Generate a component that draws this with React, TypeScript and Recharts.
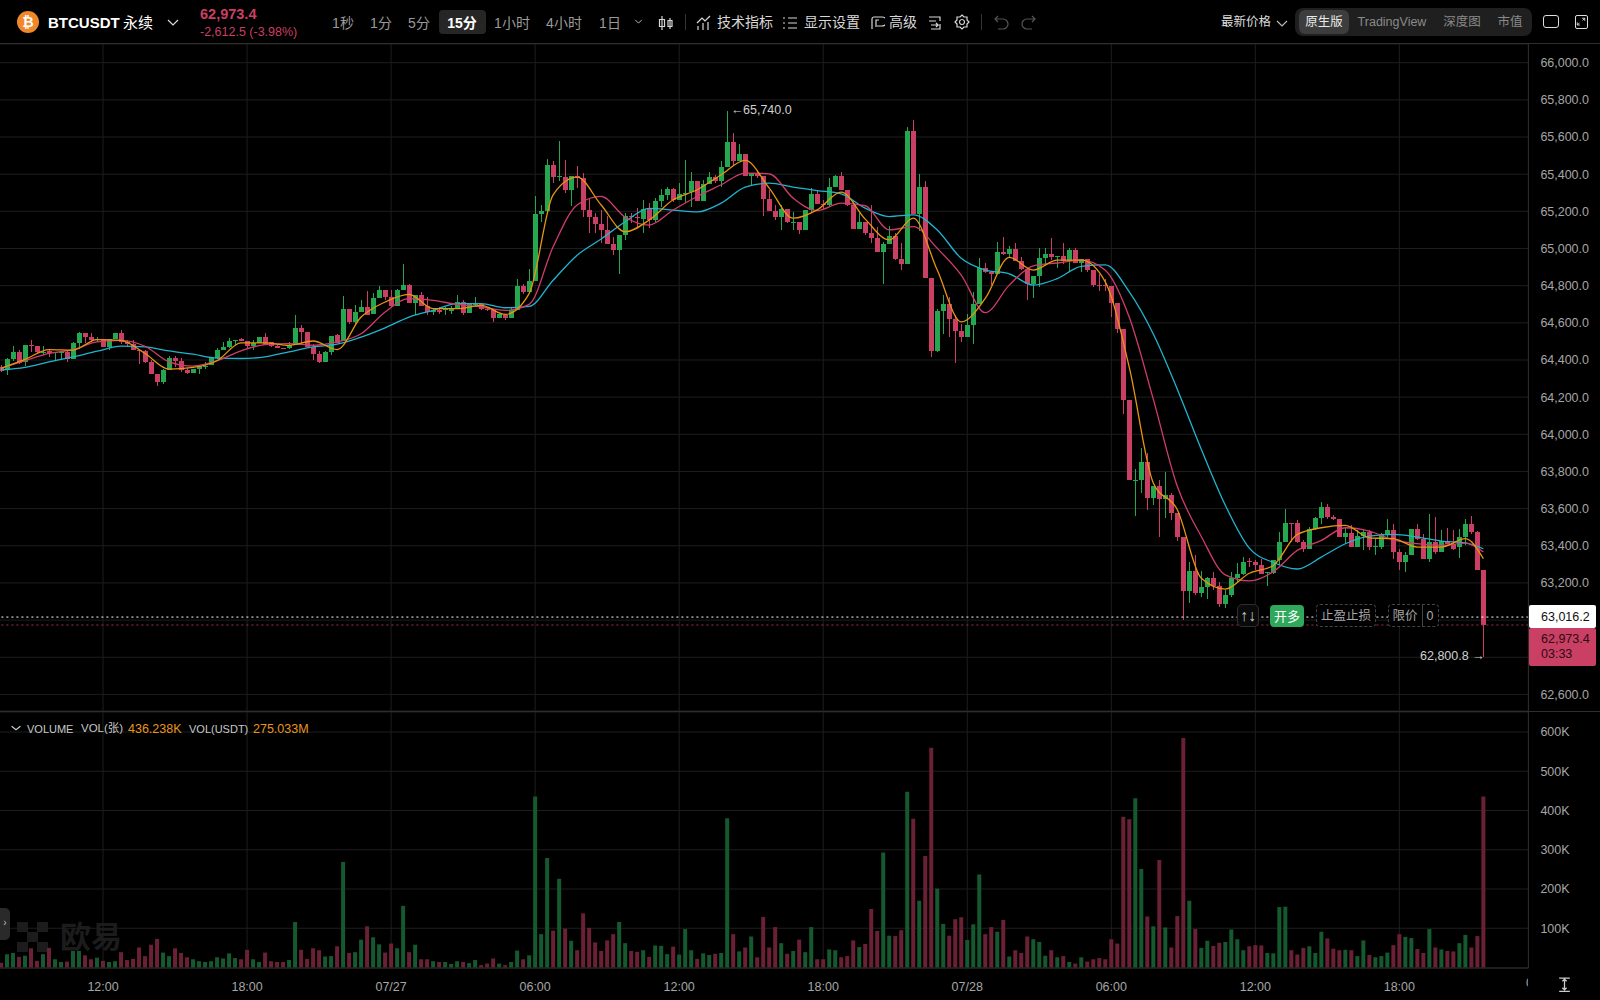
import React from 'react';
import { ComposedChart, Bar, Line, Cell, XAxis, YAxis, CartesianGrid, ReferenceLine } from 'recharts';

const opens = [
  64360,64346,64405,64442,64390,64481,64474,64444,64447,64442,
  64442,64442,64405,64490,64543,64522,64508,64515,64470,64513,
  64543,64497,64485,64453,64447,64389,64324,64282,64346,64412,
  64397,64346,64332,64351,64365,64371,64412,64453,64469,64502,
  64511,64501,64476,64492,64522,64497,64474,64463,64463,64479,
  64570,64549,64469,64433,64389,64442,64533,64500,64672,64602,
  64656,64683,64645,64732,64775,64737,64690,64775,64802,64706,
  64748,64690,64656,64670,64670,64661,64678,64710,64652,64699,
  64699,64672,64667,64624,64642,64624,64667,64797,64764,64824,
  65186,65202,65451,65386,65386,65316,65391,65380,65207,65170,
  65132,65099,65024,64991,65070,65175,65171,65159,65213,65153,
  65256,65289,65321,65262,65294,65302,65365,65257,65348,65386,
  65365,65440,65575,65473,65510,65392,65408,65392,65267,65203,
  65170,65213,65143,65143,65100,65208,65294,65237,65235,65330,
  65392,65316,65235,65105,65143,65084,65057,64981,65024,65068,
  64943,64916,65635,65186,65332,64841,64447,64663,64700,64619,
  64555,64522,64587,64700,64895,64873,64862,64981,64970,64997,
  64933,64889,64808,64852,64948,64969,64955,64958,64931,64991,
  64921,64942,64883,64802,64802,64796,64704,64569,64185,63753,
  63753,63850,63656,63720,63650,63672,63575,63445,63158,63266,
  63147,63180,63229,63185,63088,63137,63229,63250,63320,63310,
  63299,63256,63256,63321,63418,63521,63521,63418,63385,63488,
  63548,63607,63553,63542,63445,63467,63396,63450,63472,63396,
  63396,63461,63483,63364,63315,63353,63488,63434,63331,63418,
  63364,63423,63407,63396,63445,63515,63472,63272,
];

const closes = [
  64342,64405,64442,64385,64479,64478,64442,64445,64438,64444,
  64444,64405,64490,64543,64522,64506,64515,64470,64515,64543,
  64497,64486,64453,64451,64389,64324,64282,64346,64412,64396,
  64346,64332,64351,64365,64367,64412,64453,64469,64501,64510,
  64502,64474,64492,64522,64479,64476,64465,64460,64479,64570,
  64549,64469,64433,64389,64442,64531,64494,64672,64602,64656,
  64683,64643,64732,64775,64737,64688,64775,64802,64706,64748,
  64690,64656,64667,64656,64672,64678,64710,64652,64699,64701,
  64672,64667,64624,64645,64624,64667,64797,64764,64824,65186,
  65202,65451,65386,65388,65316,65391,65380,65207,65170,65132,
  65099,65022,64991,65070,65175,65171,65168,65213,65153,65256,
  65289,65321,65261,65293,65298,65365,65257,65348,65386,65365,
  65440,65575,65473,65510,65392,65408,65392,65267,65203,65170,
  65213,65143,65145,65100,65208,65294,65240,65233,65330,65392,
  65316,65235,65105,65143,65084,65057,64981,65024,65068,64943,
  64916,65635,65186,65332,64841,64447,64663,64700,64619,64555,
  64522,64587,64700,64895,64873,64862,64981,64970,64997,64933,
  64889,64808,64852,64949,64969,64953,64958,64931,64991,64921,
  64942,64883,64802,64800,64800,64704,64569,64185,63753,63755,
  63850,63656,63720,63650,63672,63575,63445,63158,63266,63147,
  63180,63229,63185,63088,63137,63229,63250,63315,63313,63299,
  63250,63258,63321,63418,63521,63519,63418,63385,63488,63548,
  63607,63553,63542,63445,63467,63396,63450,63472,63396,63398,
  63461,63483,63364,63315,63353,63488,63434,63331,63418,63364,
  63423,63407,63385,63445,63515,63472,63272,62973.4,
];

const highs = [
  64372,64408,64474,64453,64479,64510,64474,64474,64461,64444,
  64444,64453,64497,64549,64543,64543,64524,64515,64515,64543,
  64563,64506,64506,64453,64453,64399,64324,64349,64424,64424,
  64408,64355,64351,64365,64388,64417,64467,64497,64520,64510,
  64517,64501,64510,64522,64543,64497,64479,64465,64497,64640,
  64586,64549,64488,64447,64447,64531,64542,64743,64672,64694,
  64721,64770,64761,64797,64775,64775,64784,64919,64811,64748,
  64766,64739,64676,64685,64685,64688,64748,64721,64706,64739,
  64703,64685,64676,64645,64649,64685,64838,64811,64888,65283,
  65235,65483,65469,65580,65478,65391,65445,65409,65270,65189,
  65207,65175,65063,65070,65189,65189,65216,65261,65243,65270,
  65321,65330,65325,65352,65478,65411,65365,65370,65411,65397,
  65473,65740,65624,65564,65510,65408,65424,65392,65316,65235,
  65235,65213,65199,65143,65208,65325,65316,65262,65379,65397,
  65413,65316,65253,65190,65143,65233,65118,65037,65122,65082,
  65028,65654,65689,65402,65365,64841,64677,64749,64740,64641,
  64596,64650,64767,64947,64920,64875,65035,65064,65014,65028,
  64956,64889,64852,65001,65000,65054,64958,65027,65000,65000,
  64946,64946,64886,64865,64838,64796,64704,64569,64185,63812,
  63928,63901,63720,63756,63796,63684,63575,63445,63310,63351,
  63266,63234,63261,63207,63162,63261,63306,63337,63333,63324,
  63330,63258,63324,63474,63600,63521,63537,63429,63501,63555,
  63634,63627,63564,63542,63495,63510,63483,63483,63483,63438,
  63468,63546,63519,63384,63366,63492,63519,63465,63569,63555,
  63483,63497,63483,63492,63546,63558,63477,63272,
];

const lows = [
  64337,64321,64394,64378,64367,64442,64435,64426,64417,64394,
  64399,64390,64405,64461,64494,64497,64497,64470,64453,64513,
  64488,64470,64453,64380,64385,64324,64260,64271,64346,64360,
  64337,64324,64332,64324,64353,64371,64406,64453,64467,64479,
  64501,64467,64456,64492,64479,64470,64465,64458,64461,64479,
  64488,64469,64399,64385,64389,64426,64494,64500,64595,64595,
  64656,64643,64645,64732,64721,64685,64690,64775,64706,64640,
  64690,64640,64642,64649,64642,64649,64678,64642,64652,64692,
  64667,64663,64602,64624,64616,64624,64667,64753,64764,64824,
  65144,65184,65352,65361,65298,65229,65325,65168,65081,65081,
  65027,65022,64964,64865,65045,65135,65117,65081,65108,65144,
  65225,65261,65252,65262,65244,65221,65257,65257,65348,65352,
  65330,65440,65451,65473,65392,65343,65379,65176,65203,65154,
  65100,65136,65100,65078,65100,65199,65240,65208,65230,65330,
  65316,65230,65105,65105,65073,65028,64981,64808,65024,64938,
  64884,64916,65186,65096,64841,64414,64443,64542,64524,64382,
  64497,64522,64484,64700,64866,64803,64862,64965,64956,64933,
  64884,64722,64731,64794,64910,64937,64897,64919,64874,64921,
  64874,64874,64793,64769,64769,64630,64544,64108,63753,63558,
  63684,63594,63621,63445,63549,63540,63423,63000,63094,63135,
  63126,63111,63162,63072,63063,63126,63203,63243,63285,63267,
  63248,63185,63248,63299,63418,63418,63414,63366,63384,63483,
  63515,63546,63537,63445,63411,63396,63396,63378,63378,63353,
  63384,63447,63328,63272,63258,63353,63429,63331,63312,63357,
  63364,63407,63378,63335,63402,63465,63267,62800.8,
];

// volume in thousands
const volumes = [
  12,34,37,27,30,49,17,34,50,21,14,15,42,42,31,21,25,17,14,16,
  39,19,22,51,29,58,73,38,29,49,37,26,21,16,14,16,26,23,36,24,
  21,45,21,14,38,16,14,14,19,116,45,22,49,44,28,29,54,269,37,39,
  71,105,77,59,38,61,49,157,39,58,21,21,16,14,14,9,16,14,11,19,
  6,10,23,10,6,14,43,21,31,436,85,279,94,226,99,68,44,138,101,64,
  42,69,85,116,62,42,40,44,27,56,55,34,53,33,98,44,22,36,32,35,
  37,380,85,41,51,79,26,129,51,103,62,35,42,71,39,103,21,21,46,44,
  26,29,69,52,60,149,93,293,81,80,95,448,379,170,284,560,201,111,81,123,
  128,70,110,237,85,103,91,121,28,44,37,79,72,65,30,44,26,29,14,10,
  26,15,21,24,21,72,61,384,378,431,251,130,105,274,102,51,131,585,170,98,
  50,68,55,63,65,97,72,44,54,57,56,37,36,154,155,44,33,50,54,37,
  91,74,48,44,45,44,29,69,32,26,29,38,57,85,78,75,47,37,98,51,
  46,42,41,62,83,51,80,436,
];

// moving averages at these bars only
const maBars = [
  0,4,8,12,16,20,24,28,32,36,40,44,48,52,56,60,64,68,72,76,80,84,88,92,96,100,104,108,112,
  116,120,124,128,132,136,140,144,148,152,156,160,164,168,172,176,180,184,188,192,196,200,
  204,208,212,216,220,224,228,232,236,240,244,247,
];
const ma5 = [
  64355,64403,64456,64453,64510,64506,64435,64351,64360,64396,64492,64492,64479,64502,64456,
  64631,64712,64753,64676,64676,64694,64645,64757,65289,65384,65234,65090,65153,65262,
  65316,65397,65474,65325,65163,65208,65303,65158,65046,65163,64884,64605,64731,64952,64884,
  64937,64937,64820,64360,63738,63594,63225,63167,63252,
  63294,63461,63497,63510,63443,63438,63393,63393,63438,63330,
];
const ma10 = [
  64355,64396,64435,64456,64497,64506,64474,64390,64367,64396,64449,64483,64488,64479,64497,
  64541,64658,64730,64721,64699,64685,64667,64699,65009,65234,65280,65168,65126,65207,
  65280,65343,65406,65402,65271,65204,65244,65230,65100,65118,65001,64857,64655,64803,64907,
  64922,64937,64883,64630,64189,63720,63450,63243,63211,
  63261,63375,63429,63497,63479,63432,63411,63402,63414,63366,
];
const ma20 = [
  64346,64360,64390,64417,64447,64474,64470,64449,64431,64410,64408,64417,64444,64470,64485,
  64523,64573,64631,64667,64703,64703,64681,64688,64829,64964,65051,65144,65216,65207,
  65197,65244,65330,65352,65330,65312,65294,65217,65172,65181,65100,64947,64884,64864,64803,
  64838,64904,64912,64766,64540,64243,63919,63618,63387,
  63310,63275,63339,63411,63452,63461,63447,63425,63416,63384,
];

const priceTicks = [62600,62800,63000,63200,63400,63600,63800,64000,64200,64400,64600,64800,65000,65200,65400,65600,65800,66000];
// these two sit under the price tags, so only their grid lines show
const hiddenPriceLabels = [62800, 63000];
const volumeTicks = [100,200,300,400,500,600];
const timeTickBars = [17,41,65,89,113,137,161,185,209,233];
const timeTickLabels = ['12:00','18:00','07/27','06:00','12:00','18:00','07/28','06:00','12:00','18:00'];

const lastPrice = 62973.4;
const markPrice = 63016.2;
const emptyBars = 7;

const UP = '#25a750';
const DOWN = '#ca3f64';
const GRID = '#1e1e1e';
const LABEL = '#a6a6a6';
const FONT = '"Liberation Sans", "Noto Sans CJK SC", sans-serif';

const rows = Array.from({ length: opens.length + emptyBars }, (_, i) => {
  const k = maBars.indexOf(i);
  return {
    bar: i,
    open: opens[i],
    close: closes[i],
    high: highs[i],
    low: lows[i],
    range: i < opens.length ? [lows[i], highs[i]] : null,
    volume: volumes[i] ?? null,
    ma5: k >= 0 ? ma5[k] : null,
    ma10: k >= 0 ? ma10[k] : null,
    ma20: k >= 0 ? ma20[k] : null,
  };
});

const Candle = (props: any) => {
  const { x, y, width, height, payload } = props;
  if (payload.open == null) return null;
  const { open, close, high, low } = payload;
  const unit = height / (high - low);
  const top = y + (high - Math.max(open, close)) * unit;
  const bodyHeight = Math.max(Math.abs(open - close) * unit, 1);
  const color = close >= open ? UP : DOWN;
  return (
    <g shapeRendering="crispEdges">
      <rect x={x + width / 2 - 0.5} y={y} width={1} height={height} fill={color} />
      <rect x={x} y={top} width={width} height={bodyHeight} fill={color} />
    </g>
  );
};

const Txt: React.FC<{ x: number; y: number; size?: number; color?: string; bold?: boolean; center?: boolean; children: React.ReactNode }> = ({ x, y, size = 13, color = '#9a9a9a', bold, center, children }) => (
  <div style={{ position: 'absolute', left: x, top: y, transform: center ? 'translate(-50%, -50%)' : 'translateY(-50%)', fontSize: size, color, fontWeight: bold ? 700 : 400, whiteSpace: 'nowrap', lineHeight: 1 }}>{children}</div>
);

const Box: React.FC<{ x: number; y: number; w: number; h: number; style?: React.CSSProperties; children?: React.ReactNode }> = ({ x, y, w, h, style, children }) => (
  <div style={{ position: 'absolute', left: x, top: y, width: w, height: h, boxSizing: 'border-box', ...style }}>{children}</div>
);

const Icon: React.FC<{ x: number; y: number; d: string; color?: string; size?: number }> = ({ x, y, d, color = '#d8d8d8', size = 16 }) => (
  <svg style={{ position: 'absolute', left: x, top: y }} width={size} height={size} viewBox="0 0 16 16" fill="none" stroke={color} strokeWidth={1.2}>
    <path d={d} />
  </svg>
);

const Header = () => (
  <>
    <Box x={17} y={11} w={22} h={22} style={{ background: '#f0882b', borderRadius: 11, color: '#fff', fontSize: 14, fontWeight: 700, textAlign: 'center', lineHeight: '22px' }}>₿</Box>
    <Txt x={48} y={22} size={15} color="#fff" bold>BTCUSDT</Txt>
    <Txt x={123} y={22} size={15} color="#fff">永续</Txt>
    <Icon x={165} y={14} d="M3 6l5 5 5-5" color="#ddd" />
    <Txt x={200} y={14} size={14.5} color={DOWN} bold>62,973.4</Txt>
    <Txt x={200} y={32} size={12.5} color={DOWN}>-2,612.5 (-3.98%)</Txt>
    <Txt x={343} y={23} size={14} center>1秒</Txt>
    <Txt x={381} y={23} size={14} center>1分</Txt>
    <Txt x={419} y={23} size={14} center>5分</Txt>
    <Box x={439} y={10} w={47} h={24} style={{ background: '#262626', borderRadius: 4 }} />
    <Txt x={462} y={23} size={14} color="#fff" bold center>15分</Txt>
    <Txt x={512} y={23} size={14} center>1小时</Txt>
    <Txt x={564} y={23} size={14} center>4小时</Txt>
    <Txt x={610} y={23} size={14} center>1日</Txt>
    <Icon x={632} y={15} size={13} d="M4 6l4 4 4-4" color="#bbb" />
    <Icon x={658} y={15} d="M4 1v14M4 4.500h2.500v7H1.500v-7zM12 3v11M10 5.500h4v6h-4z" />
    <Box x={685} y={14} w={1} h={16} style={{ background: '#333' }} />
    <Icon x={696} y={15} d="M2 15v-4M7 15V8M12 15V7M1 8l5-5 3 3 5-5" />
    <Txt x={717} y={22} size={14} color="#d8d8d8">技术指标</Txt>
    <Icon x={782} y={15} d="M1 3h2M6 3h9M1 8h2M6 8h9M1 13h2M6 13h9" />
    <Txt x={804} y={22} size={14} color="#d8d8d8">显示设置</Txt>
    <Icon x={869} y={15} d="M3 14V4a2 2 0 0 1 2-2h8a2 2 0 0 1 0 9H8M10 5H7v7" />
    <Txt x={889} y={22} size={14} color="#d8d8d8">高级</Txt>
    <Icon x={927} y={15} d="M2 2h11v4M2 6h7M13 9v5h-9M4 10h7l-2-2M11 10l-2 2" />
    <Icon x={954} y={14} d="M8 1l2 2 3 0 0 3 2 2-2 2 0 3-3 0-2 2-2-2-3 0 0-3-2-2 2-2 0-3 3 0zM8 5.500a2.500 2.500 0 1 0 .01 0" />
    <Box x={981} y={14} w={1} h={16} style={{ background: '#333' }} />
    <Icon x={993} y={15} d="M5 1L2 4l3 3M2 4h8a4.500 4.500 0 0 1 0 10H5" color="#555" />
    <Icon x={1021} y={15} d="M11 1l3 3-3 3M14 4H6a4.500 4.500 0 0 0 0 10h5" color="#555" />
    <Txt x={1221} y={22} size={12.5} color="#ddd">最新价格</Txt>
    <Icon x={1274} y={15} d="M3 6l5 5 5-5" color="#bbb" />
    <Box x={1295} y={8} w={237} h={28} style={{ background: '#1f1f1f', borderRadius: 8 }} />
    <Box x={1299} y={10} w={50} h={24} style={{ background: '#3d3d3d', borderRadius: 6 }} />
    <Txt x={1324} y={22} size={12.5} color="#e8e8e8" center>原生版</Txt>
    <Txt x={1392} y={22} size={12.5} color="#8a8a8a" center>TradingView</Txt>
    <Txt x={1462} y={22} size={12.5} color="#8a8a8a" center>深度图</Txt>
    <Txt x={1510} y={22} size={12.5} color="#8a8a8a" center>市值</Txt>
    <Box x={1543} y={15} w={16} h={13} style={{ border: '1.5px solid #ddd', borderRadius: 3 }} />
    <Box x={1575} y={15} w={13} h={14} style={{ border: '1.5px solid #ddd', borderRadius: 2 }} />
    <Icon x={1575} y={16} size={12} d="M6 9l-3 3M3 8.500v3.500h3.500M10 6l3-3M13 6.500V3H9.500" color="#ddd" />
  </>
);

const Overlays = () => (
  <>
    <Txt x={731} y={110} size={12.5} color="#d0d0d0">←</Txt>
    <Txt x={743} y={110} size={12.5} color="#d0d0d0">65,740.0</Txt>
    <Txt x={1420} y={656} size={12.5} color="#d0d0d0">62,800.8 →</Txt>

    <Box x={1237} y={604} w={22} h={23} style={{ background: '#0a0a0a', border: '1px solid #2e2e2e', borderRadius: 5 }} />
    <Txt x={1248} y={616} size={16} color="#c8c8c8" center>↑↓</Txt>
    <Box x={1270} y={605} w={34} h={22} style={{ background: '#2ea85a', borderRadius: 4 }} />
    <Txt x={1287} y={616} size={13} color="#fff" center>开多</Txt>
    <Box x={1316} y={604} w={60} h={23} style={{ background: '#000', border: '1px dashed #444', borderRadius: 4 }} />
    <Txt x={1346} y={616} size={12.5} color="#a8a8a8" center>止盈止损</Txt>
    <Box x={1388} y={604} w={51} h={23} style={{ background: '#000', border: '1px dashed #444', borderRadius: 4 }} />
    <Box x={1422} y={604} w={1} h={23} style={{ background: '#444' }} />
    <Txt x={1405} y={616} size={12.5} color="#a8a8a8" center>限价</Txt>
    <Txt x={1430} y={616} size={12.5} color="#a8a8a8" center>0</Txt>

    <Box x={1529} y={605} w={67} h={23} style={{ background: '#fff', borderRadius: 2, color: '#111', fontSize: 12.5, paddingLeft: 12, lineHeight: '24px' }}>63,016.2</Box>
    <Box x={1529} y={628} w={67} h={38} style={{ background: DOWN, borderRadius: 2, color: '#2a0a14', fontSize: 12.5, paddingLeft: 12, paddingTop: 4, lineHeight: '15px' }}>62,973.4<br />03:33</Box>

    <Icon x={9} y={721} size={14} d="M3 6l5 4 5-4" color="#d0d0d0" />
    <Txt x={27} y={729} size={11} color="#c8c8c8">VOLUME</Txt>
    <Txt x={81} y={729} size={11.5} color="#c8c8c8">VOL(张)</Txt>
    <Txt x={128} y={729} size={12.5} color="#e8961a">436.238K</Txt>
    <Txt x={189} y={729} size={11} color="#c8c8c8">VOL(USDT)</Txt>
    <Txt x={253} y={729} size={12.5} color="#e8961a">275.033M</Txt>

    <Box x={0} y={908} w={10} h={32} style={{ background: '#2a2a2a', borderRadius: '0 5px 5px 0', color: '#bbb', fontSize: 10, lineHeight: '30px', textAlign: 'center' }}>›</Box>
    <Icon x={1556} y={976} size={17} d="M3 2h10M3 14.500h10M8 3v10M6 5l2-2 2 2M6 11l2 2 2-2" color="#ccc" />
    <Box x={1526} y={976} w={2} h={14} style={{ overflow: 'hidden', color: LABEL, fontSize: 12.5, lineHeight: '14px' }}>07/29</Box>
  </>
);

const Watermark = () => (
  <>
    <svg style={{ position: 'absolute', left: 17, top: 922 }} width={32} height={30}>
      {[[0, 0], [20, 0], [10, 10], [0, 20], [20, 20]].map(([x, y]) => (
        <rect key={`${x}-${y}`} x={x} y={y} width={11} height={10} fill="#1c1c1c" />
      ))}
    </svg>
    <Txt x={60} y={937} size={31} color="#1c1c1c" bold>欧易</Txt>
  </>
);

const App: React.FC = () => {
  const axisLine = { stroke: '#2e2e2e' };
  const tick = { fill: LABEL, fontSize: 12.5, fontFamily: FONT };
  return (
    <div style={{ position: 'relative', width: 1600, height: 1000, overflow: 'hidden', background: '#000', fontFamily: FONT }}>
      <style>{'body{margin:0;background:#000}'}</style>
      <Header />
      <Box x={0} y={43} w={1600} h={1} style={{ background: '#2e2e2e' }} />
      <Box x={0} y={711} w={1600} h={1} style={{ background: '#2e2e2e' }} />
      <Watermark />

      <div style={{ position: 'absolute', left: -1.7, top: 44 }}>
        <ComposedChart width={1601.7} height={667} data={rows} margin={{ top: 0, right: 0, bottom: 0, left: 0 }}>
          <CartesianGrid stroke={GRID} strokeWidth={1} />
          <XAxis dataKey="bar" hide ticks={timeTickBars} interval={0} />
          <YAxis
            orientation="right"
            width={71.3}
            domain={[62510.7, 66100.6]}
            ticks={priceTicks}
            interval={0}
            axisLine={axisLine}
            tickLine={false}
            tickMargin={6}
            tick={tick}
            tickFormatter={(v: number) => (hiddenPriceLabels.includes(v) ? '' : v.toLocaleString('en-US', { minimumFractionDigits: 1 }))}
          />
          <Bar dataKey="range" barSize={5} shape={Candle} isAnimationActive={false} />
          <Line dataKey="ma20" type="monotone" connectNulls dot={false} stroke="#1fb5cf" strokeWidth={1.3} isAnimationActive={false} />
          <Line dataKey="ma10" type="monotone" connectNulls dot={false} stroke="#cf3d6a" strokeWidth={1.3} isAnimationActive={false} />
          <Line dataKey="ma5" type="monotone" connectNulls dot={false} stroke="#e8950f" strokeWidth={1.3} isAnimationActive={false} />
          <ReferenceLine y={markPrice} stroke="#ffffff" strokeDasharray="2 3" />
          <ReferenceLine y={lastPrice} stroke="#a33350" strokeDasharray="2 3" />
        </ComposedChart>
      </div>

      <div style={{ position: 'absolute', left: -1.7, top: 712 }}>
        <ComposedChart width={1601.7} height={288} data={rows} margin={{ top: 0, right: 0, bottom: 0, left: 0 }}>
          <CartesianGrid stroke={GRID} strokeWidth={1} />
          <XAxis
            dataKey="bar"
            ticks={timeTickBars}
            interval={0}
            height={32}
            axisLine={axisLine}
            tickLine={false}
            tickMargin={8}
            tick={tick}
            tickFormatter={(v: number) => timeTickLabels[timeTickBars.indexOf(v)]}
          />
          <YAxis
            orientation="right"
            width={71.3}
            domain={[-1.3, 651]}
            ticks={volumeTicks}
            interval={0}
            axisLine={axisLine}
            tickLine={false}
            tickMargin={6}
            tick={tick}
            tickFormatter={(v: number) => `${v}K`}
          />
          <Bar dataKey="volume" barSize={4} isAnimationActive={false}>
            {rows.map(r => (
              <Cell key={r.bar} fill={r.close >= r.open ? '#15592e' : '#6a2035'} />
            ))}
          </Bar>
        </ComposedChart>
      </div>

      <Overlays />
    </div>
  );
};

export default App;
